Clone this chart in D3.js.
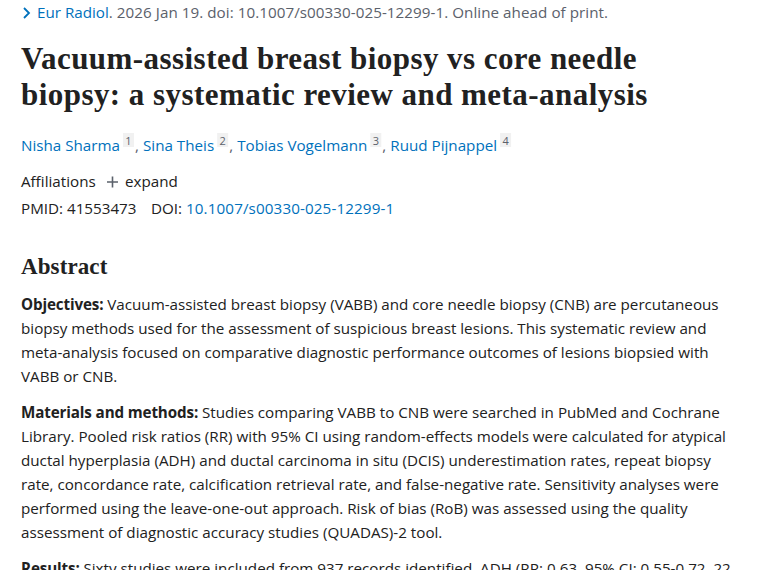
<!DOCTYPE html>
<html>
<head>
<meta charset="utf-8">
<script src="https://cdn.jsdelivr.net/npm/d3@7"></script>
<style>
  html, body { margin: 0; background: #fff; overflow: hidden; }
  text { font-family: "Open Sans", sans-serif; font-size: 15.2px; fill: #212121; }
  .title { font-family: "Liberation Serif", serif; font-size: 31px; font-weight: bold; letter-spacing: 0.45px; fill: #212121; }
  .heading { font-family: "Liberation Serif", serif; font-size: 23px; font-weight: bold; letter-spacing: 0.1px; }
  .link { fill: #0071bc; }
  .grey { fill: #5b616b; }
  .bold { font-weight: bold; letter-spacing: -0.13px; }
  .sup { font-size: 11px; fill: #5b616b; }
  .wide { letter-spacing: 0.05px; }
  .doi { letter-spacing: 0.12px; }
</style>
</head>
<body>
<div id="page"></div>
<script>
var svgWidth = 760;
var svgHeight = 570;
var leftEdge = 21;
var lineStep = 24;

var journal = "Eur Radiol";
var citation = ". 2026 Jan 19. doi: 10.1007/s00330-025-12299-1. Online ahead of print.";
var titleLines = ["Vacuum-assisted breast biopsy vs core needle", "biopsy: a systematic review and meta-analysis"];
var authors = ["Nisha Sharma", "Sina Theis", "Tobias Vogelmann", "Ruud Pijnappel"];
var affiliationNums = ["1", "2", "3", "4"];
var pmid = "PMID: 41553473";
var doiLabel = "DOI:";
var doi = "10.1007/s00330-025-12299-1";
var objectivesLabel = "Objectives:";
var objectivesLines = [
  "Vacuum-assisted breast biopsy (VABB) and core needle biopsy (CNB) are percutaneous",
  "biopsy methods used for the assessment of suspicious breast lesions. This systematic review and",
  "meta-analysis focused on comparative diagnostic performance outcomes of lesions biopsied with",
  "VABB or CNB."
];
var methodsLabel = "Materials and methods:";
var methodsLines = [
  "Studies comparing VABB to CNB were searched in PubMed and Cochrane",
  "Library. Pooled risk ratios (RR) with 95% CI using random-effects models were calculated for atypical",
  "ductal hyperplasia (ADH) and ductal carcinoma in situ (DCIS) underestimation rates, repeat biopsy",
  "rate, concordance rate, calcification retrieval rate, and false-negative rate. Sensitivity analyses were",
  "performed using the leave-one-out approach. Risk of bias (RoB) was assessed using the quality",
  "assessment of diagnostic accuracy studies (QUADAS)-2 tool."
];
var resultsLabel = "Results:";
var resultsLines = ["Sixty studies were included from 937 records identified. ADH (RR: 0.63, 95% CI: 0.55-0.72, 22"];

var svg = d3.select("#page").append("svg")
  .attr("width", svgWidth)
  .attr("height", svgHeight)
  .style("display", "block");

// one paragraph: bold label runs into the first line, the rest wrap at the left edge
function paragraph(label, lines, y) {
  var t = svg.append("text").attr("x", leftEdge).attr("y", y);
  t.append("tspan").attr("class", "bold").text(label + " ");
  t.append("tspan").text(lines[0]);
  svg.selectAll(null).data(lines.slice(1)).enter().append("text")
    .attr("x", leftEdge)
    .attr("y", function(d, i) { return y + (i + 1) * lineStep; })
    .text(function(d) { return d; });
}

// top citation line
svg.append("path").attr("d", "M24 8l5 5-5 5").attr("fill", "none").attr("stroke", "#0071bc").attr("stroke-width", 1.8);
var cite = svg.append("text").attr("x", 37).attr("y", 18);
cite.append("tspan").attr("class", "link").text(journal);
cite.append("tspan").attr("class", "grey wide").text(citation);

svg.selectAll(".title").data(titleLines).enter().append("text")
  .attr("class", "title")
  .attr("x", leftEdge)
  .attr("y", function(d, i) { return 69 + i * 36; })
  .text(function(d) { return d; });

// authors with their small boxed numbers, placed one after the other
var authorX = leftEdge;
authors.forEach(function(a, i) {
  var name = svg.append("text").attr("class", "link").attr("x", authorX).attr("y", 151).text(a);
  authorX += name.node().getComputedTextLength() + 3;
  svg.append("rect").attr("x", authorX).attr("y", 133).attr("width", 11).attr("height", 14).attr("fill", "#f1f1f1");
  svg.append("text").attr("class", "sup").attr("x", authorX + 5.5).attr("y", 145).attr("text-anchor", "middle").text(affiliationNums[i]);
  authorX += 12;
  if (i < authors.length - 1) {
    svg.append("text").attr("class", "grey").attr("x", authorX).attr("y", 151).text(",");
    authorX += 8;
  }
});

svg.append("text").attr("x", leftEdge).attr("y", 187).text("Affiliations");
svg.append("path").attr("d", "M107 182h11M112.500 176.500v11").attr("stroke", "#5b616b").attr("stroke-width", 1.6);
svg.append("text").attr("x", 125).attr("y", 187).text("expand");

svg.append("text").attr("x", leftEdge).attr("y", 214).text(pmid);
svg.append("text").attr("x", 151).attr("y", 214).text(doiLabel);
svg.append("text").attr("class", "link doi").attr("x", 186).attr("y", 214).text(doi);

svg.append("text").attr("class", "heading").attr("x", leftEdge).attr("y", 274).text("Abstract");

paragraph(objectivesLabel, objectivesLines, 310);
paragraph(methodsLabel, methodsLines, 418);
paragraph(resultsLabel, resultsLines, 574);
</script>
</body>
</html>
